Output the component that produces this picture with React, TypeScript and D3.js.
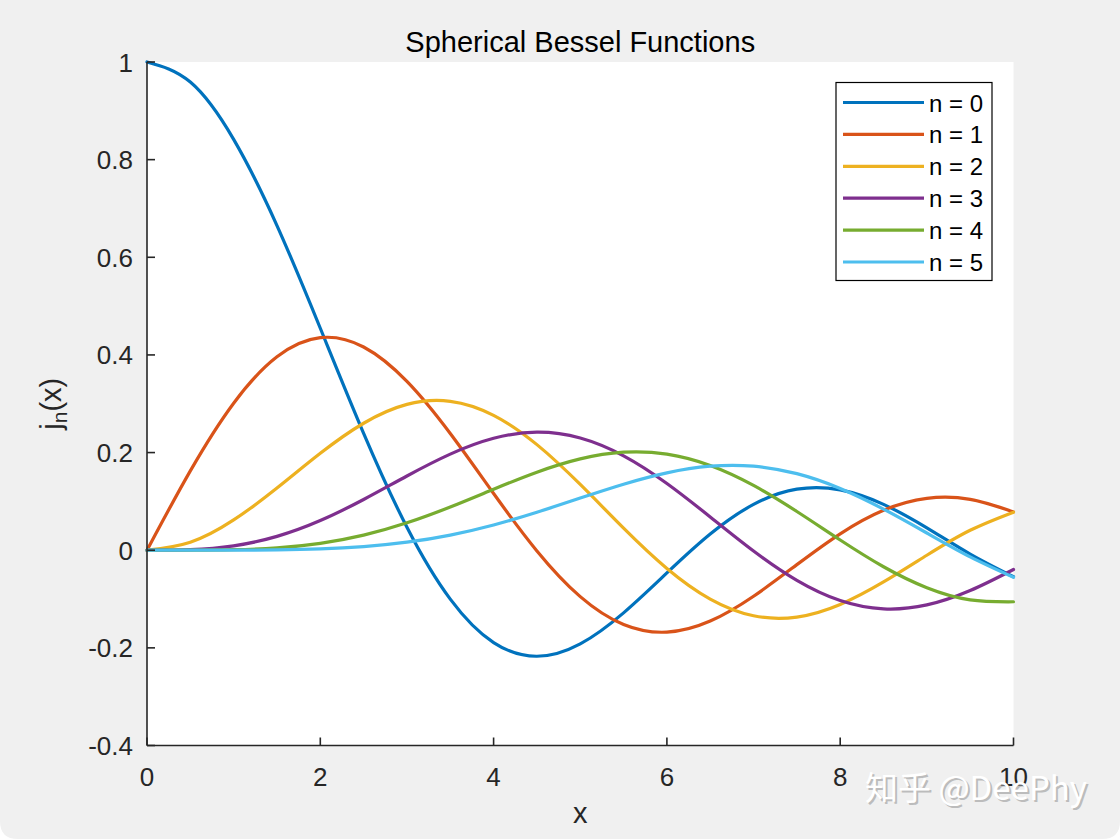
import React from "react";
import * as d3 from "d3";

const xs = [0, 0.5, 1, 1.5, 2, 2.5, 3, 3.5, 4, 4.5, 5, 5.5, 6, 6.5, 7, 7.5, 8, 8.5, 9, 9.5, 10];
const j0 = [1, 0.958851, 0.841471, 0.664997, 0.454649, 0.239389, 0.04704, -0.100224, -0.189201, -0.217229, -0.191785, -0.12828, -0.046569, 0.033095, 0.093855, 0.125067, 0.12367, 0.09394, 0.045791, -0.007911, -0.054402];
const j1 = [0, 0.162537, 0.301169, 0.396173, 0.435398, 0.416213, 0.345677, 0.238924, 0.116111, -0.00143, -0.095089, -0.152173, -0.16779, -0.145153, -0.094292, -0.029542, 0.033646, 0.081877, 0.106325, 0.104133, 0.078467];
const j2 = [0, 0.016371, 0.062037, 0.127349, 0.198448, 0.260067, 0.298637, 0.305016, 0.276284, 0.216276, 0.134732, 0.045276, -0.037326, -0.100089, -0.134266, -0.136884, -0.111053, -0.065042, -0.010349, 0.040795, 0.077942];
const j3 = [0, 0.001174, 0.009006, 0.028324, 0.060722, 0.103921, 0.152051, 0.196813, 0.229244, 0.241737, 0.229821, 0.193333, 0.136685, 0.068161, -0.001612, -0.061714, -0.103054, -0.120137, -0.112074, -0.082662, -0.039496];
const j4 = [0, 0.0000654, 0.001011, 0.004832, 0.014079, 0.030912, 0.056149, 0.08861, 0.124893, 0.159759, 0.187017, 0.200784, 0.196792, 0.173493, 0.132654, 0.079284, 0.020881, -0.033894, -0.07682, -0.101704, -0.105589];
const j5 = [0, 0.000003, 0.0000926, 0.00067, 0.002635, 0.00736, 0.016396, 0.031041, 0.051765, 0.077781, 0.10681, 0.135223, 0.158503, 0.17206, 0.172167, 0.156855, 0.126545, 0.084249, 0.035254, -0.013689, -0.055534];

const seriesNames = ["n = 0", "n = 1", "n = 2", "n = 3", "n = 4", "n = 5"];
const seriesValues = [j0, j1, j2, j3, j4, j5];
const colors = ["#0072BD", "#D95319", "#EDB120", "#7E2F8E", "#77AC30", "#4DBEEE"];
const xTicks = [0, 2, 4, 6, 8, 10];
const yTicks = [-0.4, -0.2, 0, 0.2, 0.4, 0.6, 0.8, 1];

const W = 1120;
const H = 839;
const FONT = "'Liberation Sans', Arial, Helvetica, sans-serif";
const INK = "#262626";

export default function App() {
  const x = d3.scaleLinear().domain([0, 10]).range([147, 1013.5]);
  const y = d3.scaleLinear().domain([-0.4, 1]).range([745.5, 62]);
  const line = d3
    .line<[number, number]>()
    .x((d) => x(d[0]))
    .y((d) => y(d[1]))
    .curve(d3.curveNatural);

  const [x0, x1] = x.range();
  const [yb, yt] = y.range();
  const r = 18;
  const bgPath = `M0,0 H${W} V${H - r} Q${W},${H} ${W - r},${H} H${r} Q0,${H} 0,${H - r} Z`;

  const legX = 836;
  const legY = 82.5;
  const legW = 156;
  const legH = 198;
  const rowH = 31.9;

  return (
    <div style={{ position: "absolute", left: 0, top: 0, width: W, height: H }}>
      <svg width={W} height={H} viewBox={`0 0 ${W} ${H}`} style={{ display: "block", background: "#ffffff" }}>
        <path d={bgPath} fill="#f0f0f0" />
        <rect x={x0} y={yt} width={x1 - x0} height={yb - yt} fill="#ffffff" />

        {/* series */}
        {seriesValues.map((vals, i) => (
          <path
            key={seriesNames[i]}
            d={line(xs.map((xv, k) => [xv, vals[k]] as [number, number])) || ""}
            fill="none"
            stroke={colors[i]}
            strokeWidth={3.2}
            strokeLinejoin="round"
            strokeLinecap="round"
          />
        ))}

        {/* axes */}
        <g stroke={INK} strokeWidth={1.6} fill="none">
          <line x1={x0} x2={x1} y1={yb} y2={yb} />
          <line x1={x0} x2={x0} y1={yt} y2={yb} />
          {xTicks.map((t) => (
            <line key={"xt" + t} x1={x(t)} x2={x(t)} y1={yb} y2={yb - 8} />
          ))}
          {yTicks.map((t) => (
            <line key={"yt" + t} x1={x0} x2={x0 + 8} y1={y(t)} y2={y(t)} />
          ))}
        </g>
        <g fontFamily={FONT} fontSize={26} fill={INK}>
          {xTicks.map((t) => (
            <text key={"xl" + t} x={x(t)} y={786} textAnchor="middle">
              {String(t)}
            </text>
          ))}
          {yTicks.map((t) => (
            <text key={"yl" + t} x={133} y={y(t) + 9.5} textAnchor="end">
              {String(Math.round(t * 10) / 10)}
            </text>
          ))}
        </g>

        {/* title and labels */}
        <text x={(x0 + x1) / 2} y={52} textAnchor="middle" fontFamily={FONT} fontSize={29} fill="#000">
          Spherical Bessel Functions
        </text>
        <text x={(x0 + x1) / 2} y={823} textAnchor="middle" fontFamily={FONT} fontSize={29} fill={INK}>
          x
        </text>
        <text
          transform={`translate(61,${(yt + yb) / 2}) rotate(-90)`}
          textAnchor="middle"
          fontFamily={FONT}
          fontSize={29}
          fill={INK}
        >
          j
          <tspan fontSize={21} dy={6}>n</tspan>
          <tspan dy={-6}>(x)</tspan>
        </text>

        {/* legend */}
        <rect x={legX} y={legY} width={legW} height={legH} fill="#ffffff" stroke="#000" strokeWidth={1.2} />
        {seriesNames.map((name, i) => {
          const cy = legY + 20 + i * rowH;
          return (
            <g key={"lg" + name}>
              <line x1={843} x2={924} y1={cy} y2={cy} stroke={colors[i]} strokeWidth={3.2} />
              <text x={929} y={cy + 9} fontFamily={FONT} fontSize={24} fill="#000">
                {name}
              </text>
            </g>
          );
        })}

        {/* watermark */}
        <g fontFamily="'Noto Sans CJK SC', 'Noto Sans', sans-serif" fontSize={33}>
          <text x={867} y={802} fill="#9a9a9a" opacity={0.6}>
            知乎 @DeePhy
          </text>
          <text x={865} y={800} fill="#ffffff">
            知乎 @DeePhy
          </text>
        </g>
      </svg>
    </div>
  );
}
